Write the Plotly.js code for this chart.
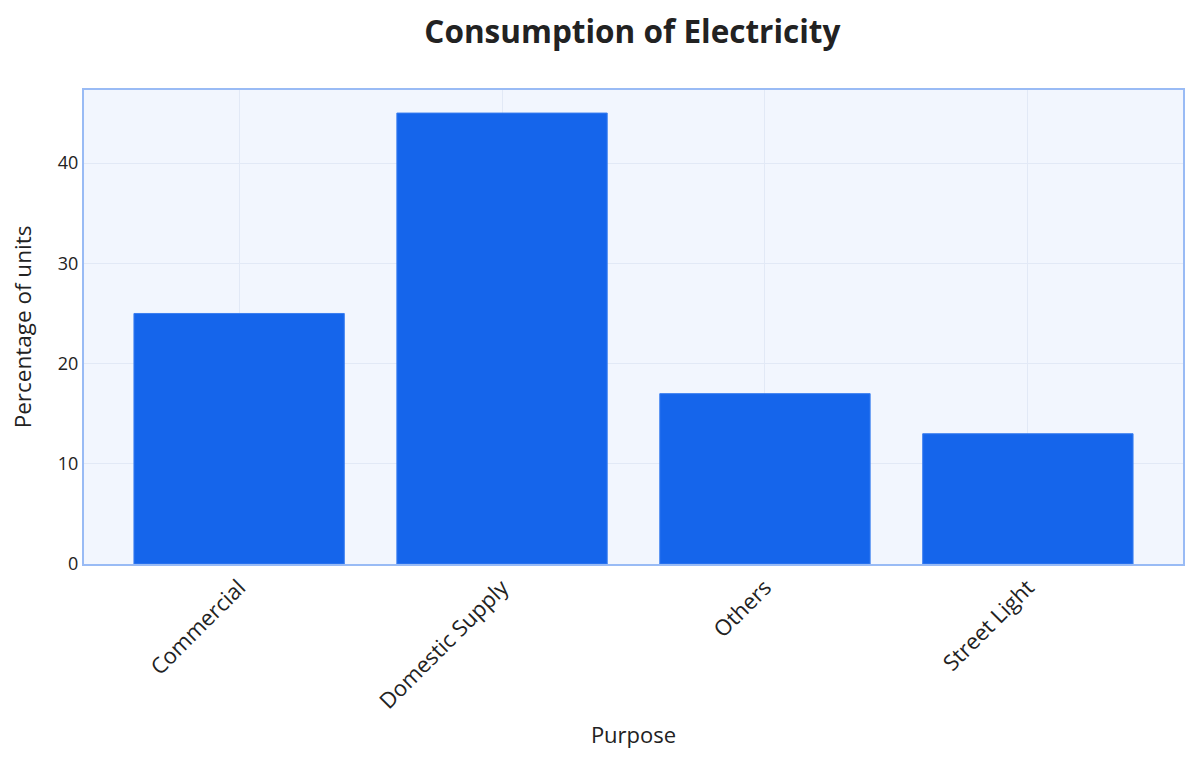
<!DOCTYPE html>
<html>
<head>
<meta charset="utf-8">
<script src="https://cdn.plot.ly/plotly-3.0.1.min.js"></script>
<style>html,body{margin:0;padding:0;background:#fff}</style>
</head>
<body>
<div id="chart" style="width:1200px;height:765px"></div>
<script>
var purposes = ['Commercial', 'Domestic Supply', 'Others', 'Street Light'];
var shares = [25, 45, 17, 13];

var trace = {
  x: purposes,
  y: shares,
  type: 'bar',
  width: 0.8,
  marker: {color: '#1565eb', line: {color: '#3a7ef0', width: 1}},
  hoverinfo: 'x+y'
};

var layout = {
  width: 1200,
  height: 765,
  font: {family: '"Open Sans", sans-serif', color: '#222'},
  paper_bgcolor: '#ffffff',
  plot_bgcolor: '#f2f6fe',
  margin: {l: 84, r: 17, t: 90, b: 201},
  title: {text: '<b>Consumption of Electricity</b>', x: 0.527, xanchor: 'center', y: 0.958, yanchor: 'middle', font: {size: 31.5, color: '#222'}},
  xaxis: {
    title: {text: 'Purpose', font: {size: 22}, standoff: 14},
    tickangle: -45,
    tickfont: {size: 22},
    range: [-0.59, 3.59],
    showgrid: true,
    gridcolor: '#e2e9f6',
    showline: true, mirror: true, linecolor: '#99bbf5', linewidth: 2,
    ticks: ''
  },
  yaxis: {
    title: {text: 'Percentage of units', font: {size: 22.5}, standoff: 20},
    tickfont: {size: 18},
    range: [0, 47.3],
    dtick: 10,
    showgrid: true,
    gridcolor: '#e2e9f6',
    zeroline: false,
    showline: true, mirror: true, linecolor: '#99bbf5', linewidth: 2,
    ticks: ''
  },
  showlegend: false
};

Plotly.newPlot('chart', [trace], layout, {displayModeBar: false});
</script>
</body>
</html>
